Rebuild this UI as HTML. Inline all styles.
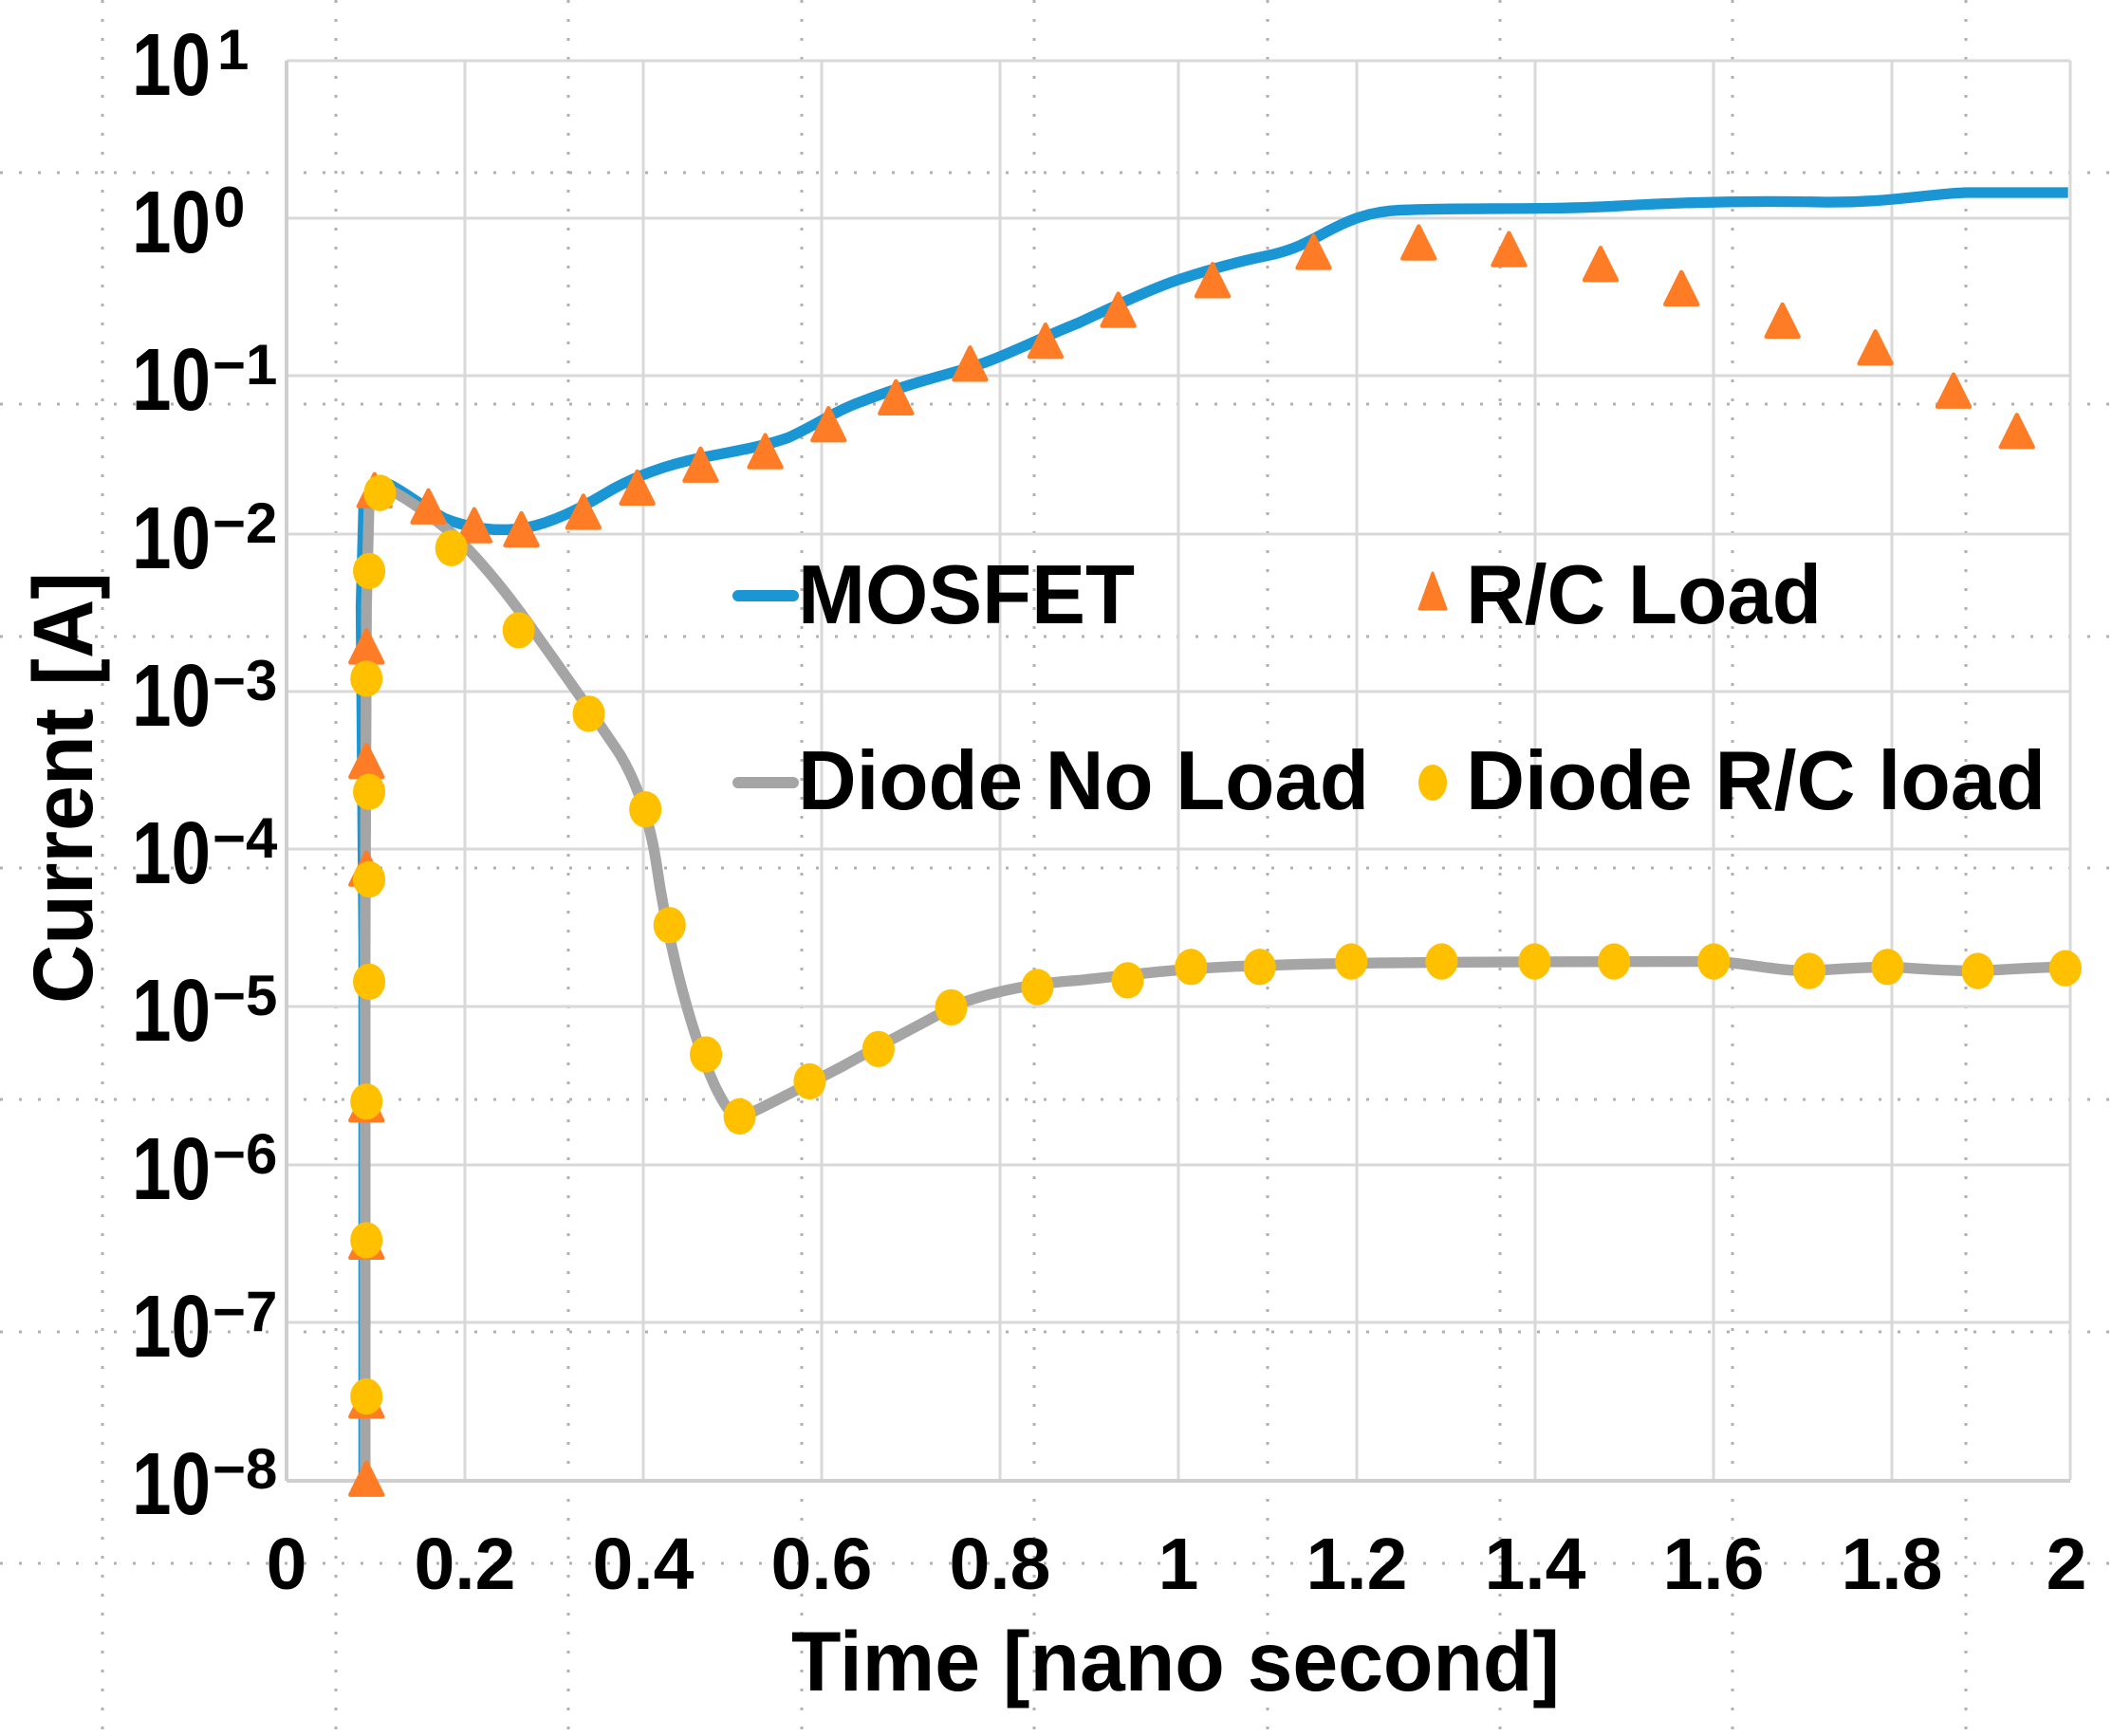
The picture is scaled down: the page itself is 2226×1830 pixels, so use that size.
<!DOCTYPE html>
<html><head><meta charset="utf-8"><style>
html,body{margin:0;padding:0;background:#fff}
svg{display:block}
text{font-family:"Liberation Sans",Arial,sans-serif;font-weight:bold;fill:#000}
</style></head><body>
<svg width="2226" height="1830" viewBox="0 0 2226 1830" xmlns="http://www.w3.org/2000/svg">
<g stroke="#b0b0b0" stroke-width="3" stroke-dasharray="3 17">
<line x1="108" y1="0" x2="108" y2="1830"/>
<line x1="354" y1="0" x2="354" y2="1830"/>
<line x1="599" y1="0" x2="599" y2="1830"/>
<line x1="845" y1="0" x2="845" y2="1830"/>
<line x1="1090" y1="0" x2="1090" y2="1830"/>
<line x1="1336" y1="0" x2="1336" y2="1830"/>
<line x1="1581" y1="0" x2="1581" y2="1830"/>
<line x1="1826" y1="0" x2="1826" y2="1830"/>
<line x1="2072" y1="0" x2="2072" y2="1830"/>
<line x1="0" y1="182" x2="2226" y2="182"/>
<line x1="0" y1="426" x2="2226" y2="426"/>
<line x1="0" y1="671" x2="2226" y2="671"/>
<line x1="0" y1="915" x2="2226" y2="915"/>
<line x1="0" y1="1159" x2="2226" y2="1159"/>
<line x1="0" y1="1404" x2="2226" y2="1404"/>
<line x1="0" y1="1648" x2="2226" y2="1648"/>
</g>
<g stroke="#d9d9d9" stroke-width="3">
<line x1="302" y1="64" x2="2182" y2="64"/>
<line x1="302" y1="230" x2="2182" y2="230"/>
<line x1="302" y1="396" x2="2182" y2="396"/>
<line x1="302" y1="563" x2="2182" y2="563"/>
<line x1="302" y1="729" x2="2182" y2="729"/>
<line x1="302" y1="895" x2="2182" y2="895"/>
<line x1="302" y1="1061" x2="2182" y2="1061"/>
<line x1="302" y1="1228" x2="2182" y2="1228"/>
<line x1="302" y1="1394" x2="2182" y2="1394"/>
<line x1="302" y1="64" x2="302" y2="1560"/>
<line x1="490" y1="64" x2="490" y2="1560"/>
<line x1="678" y1="64" x2="678" y2="1560"/>
<line x1="866" y1="64" x2="866" y2="1560"/>
<line x1="1054" y1="64" x2="1054" y2="1560"/>
<line x1="1242" y1="64" x2="1242" y2="1560"/>
<line x1="1430" y1="64" x2="1430" y2="1560"/>
<line x1="1618" y1="64" x2="1618" y2="1560"/>
<line x1="1806" y1="64" x2="1806" y2="1560"/>
<line x1="1994" y1="64" x2="1994" y2="1560"/>
<line x1="2182" y1="64" x2="2182" y2="1560"/>
</g>
<line x1="302" y1="1561" x2="2182" y2="1561" stroke="#cfcfcf" stroke-width="4"/>
<line x1="302" y1="64" x2="302" y2="1561" stroke="#cfcfcf" stroke-width="4"/>

<g font-size="93">
<text x="222" y="100" text-anchor="end" textLength="83" lengthAdjust="spacingAndGlyphs">10</text>
<text x="222" y="266" text-anchor="end" textLength="83" lengthAdjust="spacingAndGlyphs">10</text>
<text x="222" y="432" text-anchor="end" textLength="83" lengthAdjust="spacingAndGlyphs">10</text>
<text x="222" y="599" text-anchor="end" textLength="83" lengthAdjust="spacingAndGlyphs">10</text>
<text x="222" y="765" text-anchor="end" textLength="83" lengthAdjust="spacingAndGlyphs">10</text>
<text x="222" y="931" text-anchor="end" textLength="83" lengthAdjust="spacingAndGlyphs">10</text>
<text x="222" y="1097" text-anchor="end" textLength="83" lengthAdjust="spacingAndGlyphs">10</text>
<text x="222" y="1264" text-anchor="end" textLength="83" lengthAdjust="spacingAndGlyphs">10</text>
<text x="222" y="1430" text-anchor="end" textLength="83" lengthAdjust="spacingAndGlyphs">10</text>
<text x="222" y="1596" text-anchor="end" textLength="83" lengthAdjust="spacingAndGlyphs">10</text>
</g>
<g font-size="60">
<text x="229" y="73">1</text>
<text x="225" y="239">0</text>
<text x="224" y="405">−1</text>
<text x="224" y="572">−2</text>
<text x="224" y="738">−3</text>
<text x="224" y="904">−4</text>
<text x="224" y="1070">−5</text>
<text x="224" y="1237">−6</text>
<text x="224" y="1403">−7</text>
<text x="224" y="1569">−8</text>
</g>
<g font-size="77" text-anchor="middle">
<text x="302" y="1675">0</text>
<text x="490" y="1675">0.2</text>
<text x="678" y="1675">0.4</text>
<text x="866" y="1675">0.6</text>
<text x="1054" y="1675">0.8</text>
<text x="1242" y="1675">1</text>
<text x="1430" y="1675">1.2</text>
<text x="1618" y="1675">1.4</text>
<text x="1806" y="1675">1.6</text>
<text x="1994" y="1675">1.8</text>
<text x="2178" y="1675">2</text>
</g>
<text x="834" y="1782" font-size="89" textLength="810" lengthAdjust="spacingAndGlyphs">Time [nano second]</text>
<text transform="translate(97,1058) rotate(-90)" x="0" y="0" font-size="89" textLength="455" lengthAdjust="spacingAndGlyphs">Current [A]</text>

<g transform="scale(1.42,1.4196)">
<path d="M270,1100 L270,700 L268,450 L270,375 L278,358 C290,356 300,368 330,385 C350,393 370,395 390,392 C410,388 430,378 450,366 C470,354 495,345 520,340 C545,335 565,332 585,325 C605,316 620,305 640,298 C665,288 695,280 720,273 C745,265 770,252 800,240 C830,226 860,212 880,206 C905,198 925,193 940,190 C960,186 970,180 985,172 C1000,164 1015,157 1040,156 C1080,154 1150,156 1200,153 C1250,150 1300,149 1350,150 C1400,151 1430,144 1460,143 L1535,143" fill="none" stroke="#1a96d4" stroke-width="8" stroke-linejoin="round"/>
<path d="M271,1100 L271,700 L272,450 L274,372 C278,362 284,362 290,364 C305,372 320,383 340,400 C360,420 380,445 400,474 C420,502 440,530 460,560 C475,585 483,615 487,640 C494,690 510,760 530,805 C538,822 544,830 550,830 C575,818 600,805 625,792 C655,775 685,760 710,746 C740,735 770,730 800,728 C840,724 880,718 940,717 C1000,714 1200,714 1275,714 C1300,716 1320,721 1343,721 C1370,719 1390,718 1405,718 C1430,720 1450,721 1470,721 C1500,719 1520,718 1535,718" fill="none" stroke="#a5a5a5" stroke-width="8" stroke-linejoin="round"/>
<g fill="#fd7c25" stroke="#fd7c25" stroke-width="3" stroke-linejoin="round">
<path d="M272,1086 l-12,24 h24 z"/>
<path d="M272,468 l-12,24 h24 z"/>
<path d="M272,553 l-12,24 h24 z"/>
<path d="M272,633 l-12,24 h24 z"/>
<path d="M272,808 l-12,24 h24 z"/>
<path d="M272,910 l-12,24 h24 z"/>
<path d="M272,1028 l-12,24 h24 z"/>
<path d="M278,352 l-12,24 h24 z"/>
<path d="M318,364 l-12,24 h24 z"/>
<path d="M352,378 l-12,24 h24 z"/>
<path d="M387,381 l-12,24 h24 z"/>
<path d="M433,368 l-12,24 h24 z"/>
<path d="M473,350 l-12,24 h24 z"/>
<path d="M520,333 l-12,24 h24 z"/>
<path d="M568,323 l-12,24 h24 z"/>
<path d="M615,303 l-12,24 h24 z"/>
<path d="M665,283 l-12,24 h24 z"/>
<path d="M720,258 l-12,24 h24 z"/>
<path d="M776,241 l-12,24 h24 z"/>
<path d="M830,218 l-12,24 h24 z"/>
<path d="M900,196 l-12,24 h24 z"/>
<path d="M975,175 l-12,24 h24 z"/>
<path d="M1053,168 l-12,24 h24 z"/>
<path d="M1120,173 l-12,24 h24 z"/>
<path d="M1188,184 l-12,24 h24 z"/>
<path d="M1248,202 l-12,24 h24 z"/>
<path d="M1323,226 l-12,24 h24 z"/>
<path d="M1392,246 l-12,24 h24 z"/>
<path d="M1450,278 l-12,24 h24 z"/>
<path d="M1497,308 l-12,24 h24 z"/>
</g>
<g fill="#ffc000">
<ellipse cx="282" cy="366" rx="12" ry="13.5"/>
<ellipse cx="274" cy="424" rx="12" ry="13.5"/>
<ellipse cx="272" cy="504" rx="12" ry="13.5"/>
<ellipse cx="274" cy="588" rx="12" ry="13.5"/>
<ellipse cx="274" cy="653" rx="12" ry="13.5"/>
<ellipse cx="274" cy="729" rx="12" ry="13.5"/>
<ellipse cx="272" cy="818" rx="12" ry="13.5"/>
<ellipse cx="272" cy="921" rx="12" ry="13.5"/>
<ellipse cx="272" cy="1037" rx="12" ry="13.5"/>
<ellipse cx="335" cy="407" rx="12" ry="13.5"/>
<ellipse cx="385" cy="468" rx="12" ry="13.5"/>
<ellipse cx="437" cy="530" rx="12" ry="13.5"/>
<ellipse cx="479" cy="601" rx="12" ry="13.5"/>
<ellipse cx="497" cy="687" rx="12" ry="13.5"/>
<ellipse cx="524" cy="783" rx="12" ry="13.5"/>
<ellipse cx="549" cy="829" rx="12" ry="13.5"/>
<ellipse cx="601" cy="803" rx="12" ry="13.5"/>
<ellipse cx="652" cy="779" rx="12" ry="13.5"/>
<ellipse cx="706" cy="748" rx="12" ry="13.5"/>
<ellipse cx="770" cy="733" rx="12" ry="13.5"/>
<ellipse cx="837" cy="728" rx="12" ry="13.5"/>
<ellipse cx="884" cy="718" rx="12" ry="13.5"/>
<ellipse cx="935" cy="718" rx="12" ry="13.5"/>
<ellipse cx="1003" cy="714" rx="12" ry="13.5"/>
<ellipse cx="1070" cy="714" rx="12" ry="13.5"/>
<ellipse cx="1139" cy="714" rx="12" ry="13.5"/>
<ellipse cx="1198" cy="714" rx="12" ry="13.5"/>
<ellipse cx="1272" cy="714" rx="12" ry="13.5"/>
<ellipse cx="1343" cy="721" rx="12" ry="13.5"/>
<ellipse cx="1401" cy="718" rx="12" ry="13.5"/>
<ellipse cx="1468" cy="721" rx="12" ry="13.5"/>
<ellipse cx="1533" cy="719" rx="12" ry="13.5"/>
</g>
</g>

<line x1="778" y1="628" x2="836" y2="628" stroke="#1a96d4" stroke-width="12" stroke-linecap="round"/>
<text x="841" y="657" font-size="88" textLength="355" lengthAdjust="spacingAndGlyphs">MOSFET</text>
<path d="M1510,604 l-14,38 h28 z" fill="#fd7c25" stroke="#fd7c25" stroke-width="3" stroke-linejoin="round"/>
<text x="1545" y="657" font-size="88" textLength="375" lengthAdjust="spacingAndGlyphs">R/C Load</text>
<line x1="778" y1="825" x2="836" y2="825" stroke="#a5a5a5" stroke-width="12" stroke-linecap="round"/>
<text x="841" y="853" font-size="88" textLength="602" lengthAdjust="spacingAndGlyphs">Diode No Load</text>
<ellipse cx="1510" cy="825" rx="15" ry="19" fill="#ffc000"/>
<text x="1545" y="853" font-size="88" textLength="611" lengthAdjust="spacingAndGlyphs">Diode R/C load</text>
</svg>
</body></html>
